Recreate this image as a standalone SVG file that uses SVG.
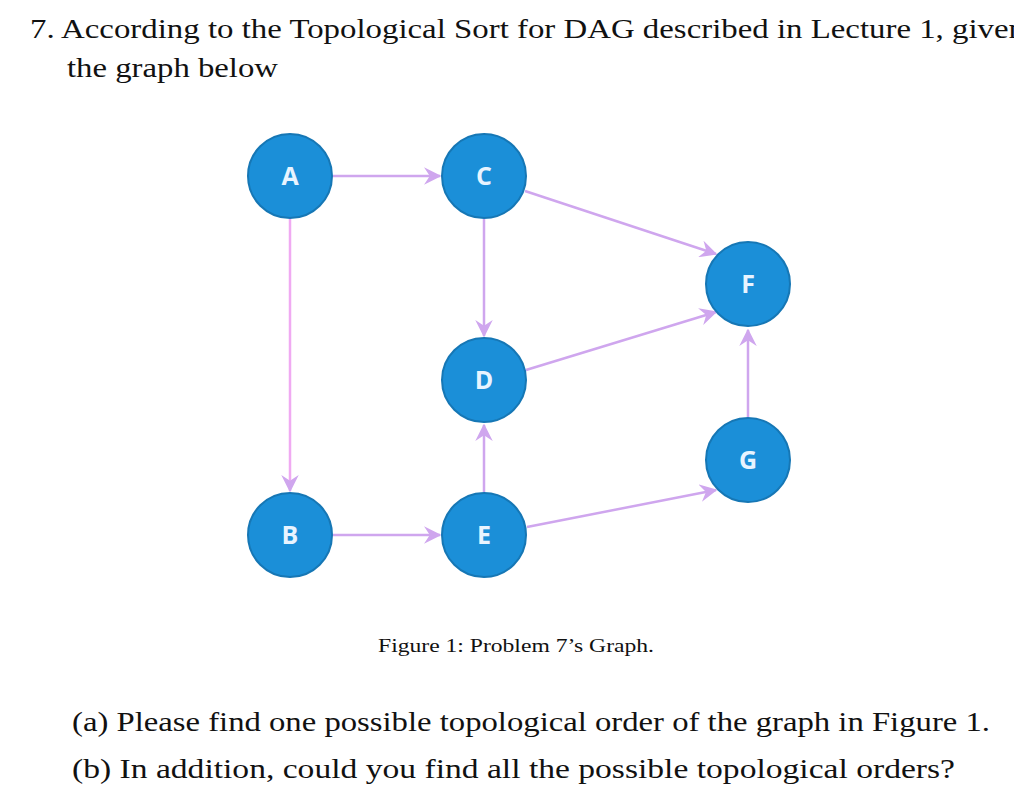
<svg xmlns="http://www.w3.org/2000/svg" width="1014" height="808" viewBox="0 0 1014 808">
<style>
.t{font-family:"Liberation Serif",serif;fill:#111}
.n{fill:#1b8fd8;stroke:#1677b5;stroke-width:2}
.l{font-family:"Open Sans","Liberation Sans",sans-serif;font-weight:bold;font-size:25px;fill:#e8f4ff;text-anchor:middle}
.e{stroke:#cfa6ee;stroke-width:2.5;fill:none;marker-end:url(#ah)}
</style>
<defs><marker id="ah" viewBox="0 0 12 12" refX="11" refY="6" markerWidth="7" markerHeight="7" orient="auto" markerUnits="strokeWidth"><path d="M0,0 L12,6 L0,12 L4,6 Z" fill="#cfa6ee"/></marker></defs>
<rect width="1014" height="808" fill="#fff"/>
<text class="t" x="30" y="38" font-size="28" textLength="995" lengthAdjust="spacingAndGlyphs">7. According to the Topological Sort for DAG described in Lecture 1, given</text>
<text class="t" x="67" y="77" font-size="28" textLength="211" lengthAdjust="spacingAndGlyphs">the graph below</text>
<g id="edges">
<line class="e" x1="333" y1="176" x2="440" y2="176"/>
<line class="e" x1="290" y1="219" x2="290" y2="491" style="stroke:#f0aaf2"/>
<line class="e" x1="484" y1="219" x2="484" y2="336"/>
<line class="e" x1="525" y1="191" x2="716" y2="254"/>
<line class="e" x1="526" y1="370" x2="716" y2="312"/>
<line class="e" x1="748" y1="417" x2="748" y2="330"/>
<line class="e" x1="484" y1="492" x2="484" y2="425"/>
<line class="e" x1="333" y1="535" x2="440" y2="535"/>
<line class="e" x1="527" y1="527" x2="716" y2="490"/>
</g>
<g id="A"><circle class="n" cx="290" cy="176" r="42"/><text class="l" x="290" y="185">A</text></g>
<g id="C"><circle class="n" cx="484" cy="176" r="42"/><text class="l" x="484" y="185">C</text></g>
<g id="D"><circle class="n" cx="484" cy="380" r="42"/><text class="l" x="484" y="389">D</text></g>
<g id="F"><circle class="n" cx="748" cy="284" r="42"/><text class="l" x="748" y="293">F</text></g>
<g id="G"><circle class="n" cx="748" cy="460" r="42"/><text class="l" x="748" y="469">G</text></g>
<g id="B"><circle class="n" cx="290" cy="535" r="42"/><text class="l" x="290" y="544">B</text></g>
<g id="E"><circle class="n" cx="484" cy="535" r="42"/><text class="l" x="484" y="544">E</text></g>
<text class="t" x="378" y="652" font-size="18" textLength="276" lengthAdjust="spacingAndGlyphs">Figure 1: Problem 7’s Graph.</text>
<text class="t" x="72" y="731" font-size="28" textLength="918" lengthAdjust="spacingAndGlyphs">(a) Please find one possible topological order of the graph in Figure 1.</text>
<text class="t" x="72" y="778" font-size="28" textLength="883" lengthAdjust="spacingAndGlyphs">(b) In addition, could you find all the possible topological orders?</text>
</svg>
